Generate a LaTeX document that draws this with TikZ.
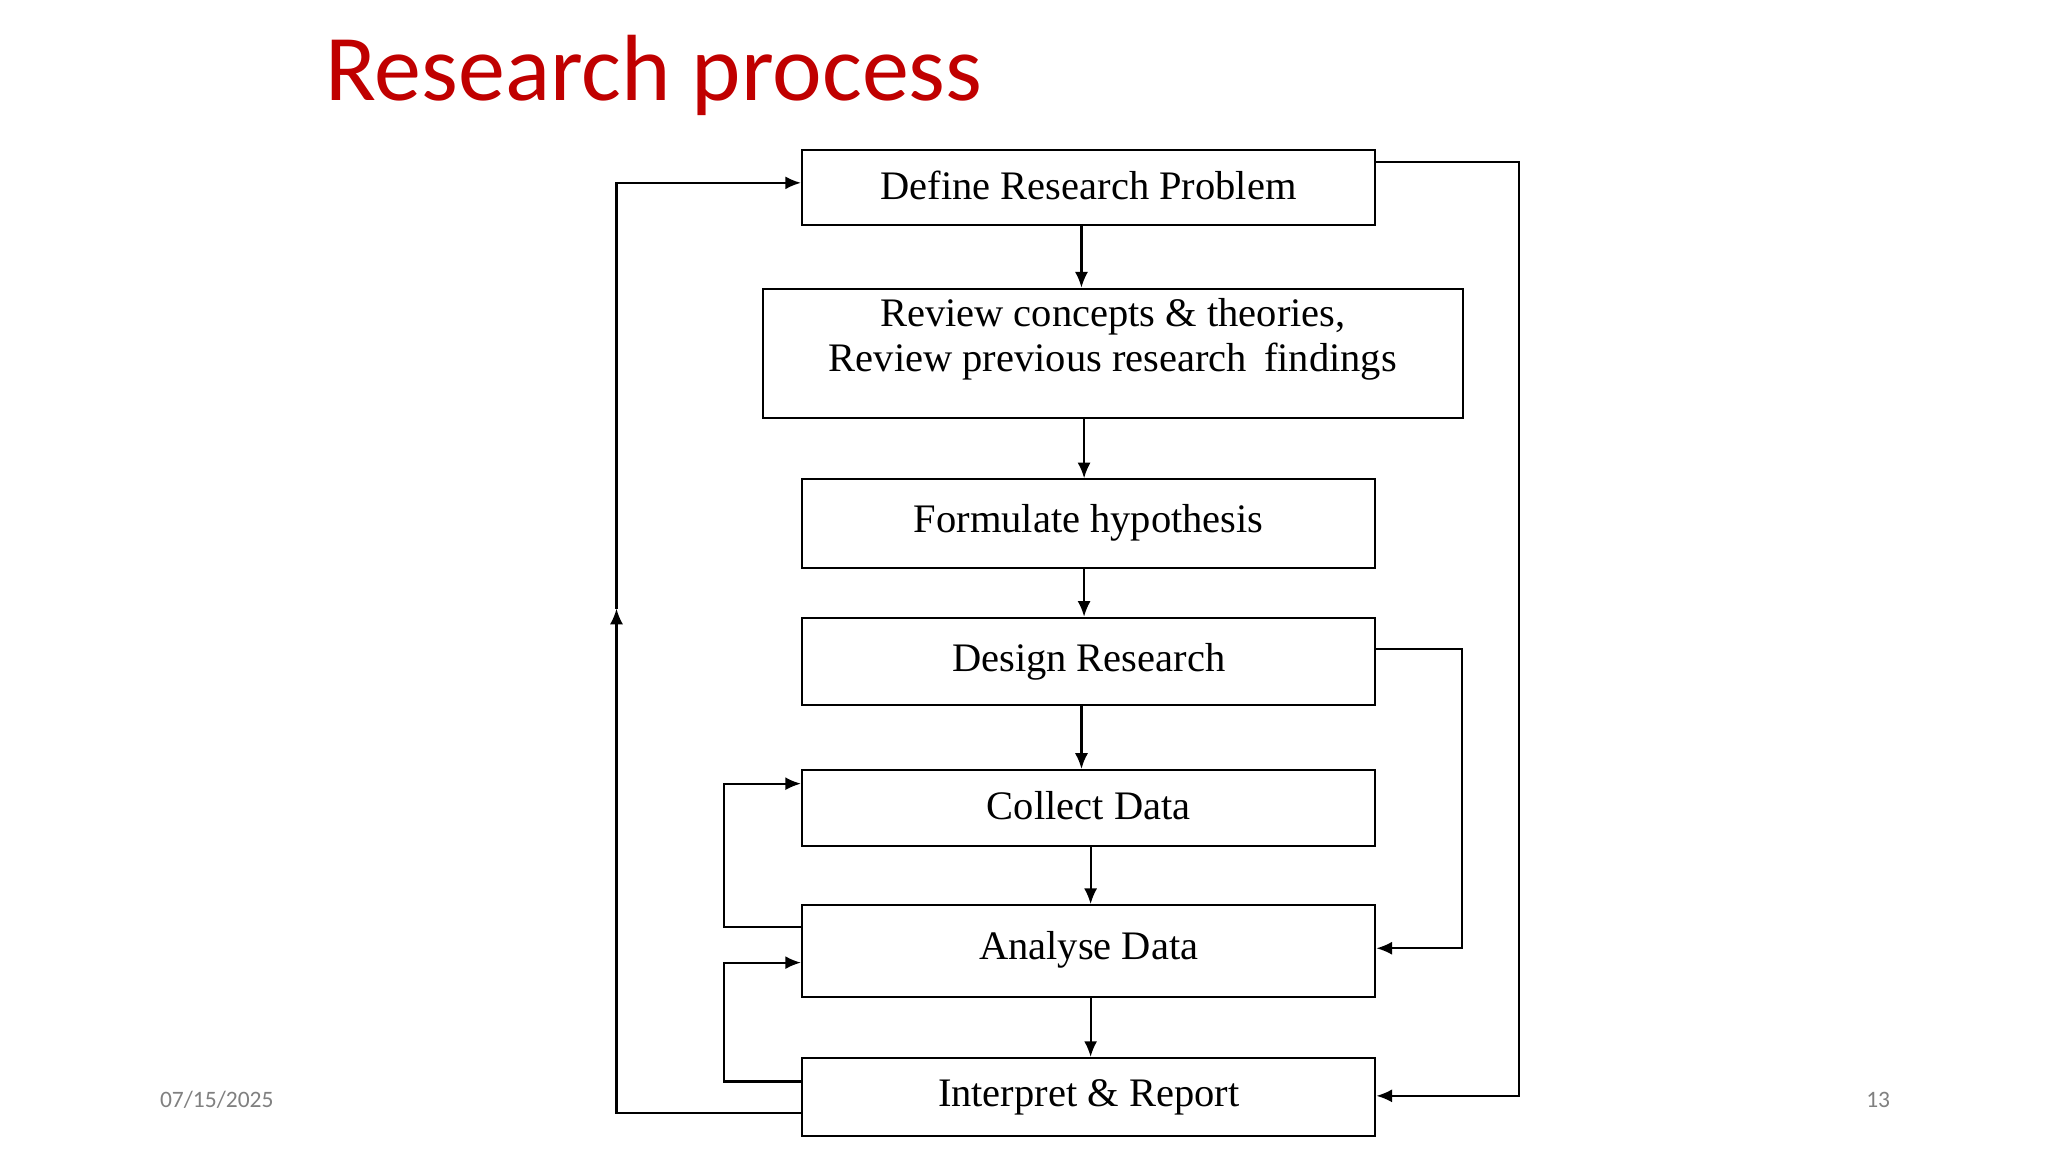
\documentclass[tikz,border=0pt]{standalone}
\usepackage{fontspec}
\setmainfont{Liberation Serif}
\newfontfamily\titlefont{Carlito}
\usetikzlibrary{arrows.meta, positioning}
\definecolor{titlered}{RGB}{192,0,0}
\tikzset{
	stage/.style={rectangle, draw=black, line width=0.8pt, minimum width=219.5pt, minimum height=29pt, text centered, font=\fontsize{15.5}{17}\selectfont, inner sep=0pt},
	arrow/.style={line width=0.8pt, -{Latex[length=6pt,width=5pt]}},
	line/.style={line width=0.8pt}
}
\begin{document}
\begin{tikzpicture}[x=0.5pt, y=-0.5pt]
		\useasboundingbox (0,0) rectangle (1568,882);
		
		% Title and footer
		\node (title) [anchor=west, text=titlered, font=\titlefont\fontsize{36}{40}\selectfont] at (242,58) {Research process};
		\node (date) [text=gray, font=\titlefont\fontsize{9}{10}\selectfont] at (166,842) {07/15/2025};
		\node (page) [text=gray, font=\titlefont\fontsize{9}{10}\selectfont] at (1438,842) {13};
		
		% Nodes
		\node (define) [stage] at (833.5,143.5) {\raisebox{2pt}{Define Research Problem}};
		\node (review) [stage, minimum width=268pt, minimum height=49.5pt, align=center] at (852,270.5) {Review concepts \& theories,\\ Review previous research\, findings\\[-3pt]};
		\node (formulate) [stage, minimum height=34pt] at (833.5,401) {\raisebox{4pt}{Formulate hypothesis}};
		\node (design) [stage, minimum height=33.5pt] at (833.5,506.5) {\raisebox{3pt}{Design Research}};
		\node (collect) [stage] at (833.5,618.5) {\raisebox{2pt}{Collect Data}};
		\node (analyse) [stage, minimum height=35pt] at (833.5,728) {\raisebox{4pt}{Analyse Data}};
		\node (interpret) [stage, minimum height=30pt] at (833.5,840) {\raisebox{2pt}{Interpret \& Report}};
		
		% Arrows
		\draw [arrow] (define.south -| 828,0) -- (review.north -| 828,0);
		\draw [arrow] (review.south -| 830,0) -- (formulate.north -| 830,0);
		\draw [arrow] (formulate.south -| 830,0) -- (design.north -| 830,0);
		\draw [arrow] (design.south -| 828,0) -- (collect.north -| 828,0);
		\draw [arrow] (collect.south -| 835,0) -- (analyse.north -| 835,0);
		\draw [arrow] (analyse.south -| 835,0) -- (interpret.north -| 835,0);
		
		% Feedback loops
		\draw [arrow] (define.east |- 0,124) -| (1163,839) -- (interpret.east |- 0,839);
		\draw [arrow] (design.east |- 0,497) -| (1119,726) -- (analyse.east |- 0,726);
		\draw [arrow] (analyse.west |- 0,710) -| (554,600) -- (collect.west |- 0,600);
		\draw [arrow] (interpret.west |- 0,828) -| (554,737) -- (analyse.west |- 0,737);
		\draw [arrow] (interpret.west |- 0,852) -| (472,466);
		\draw [arrow] (472,466) -- (472,140) -- (define.west |- 0,140);
		
	\end{tikzpicture}
\end{document}
